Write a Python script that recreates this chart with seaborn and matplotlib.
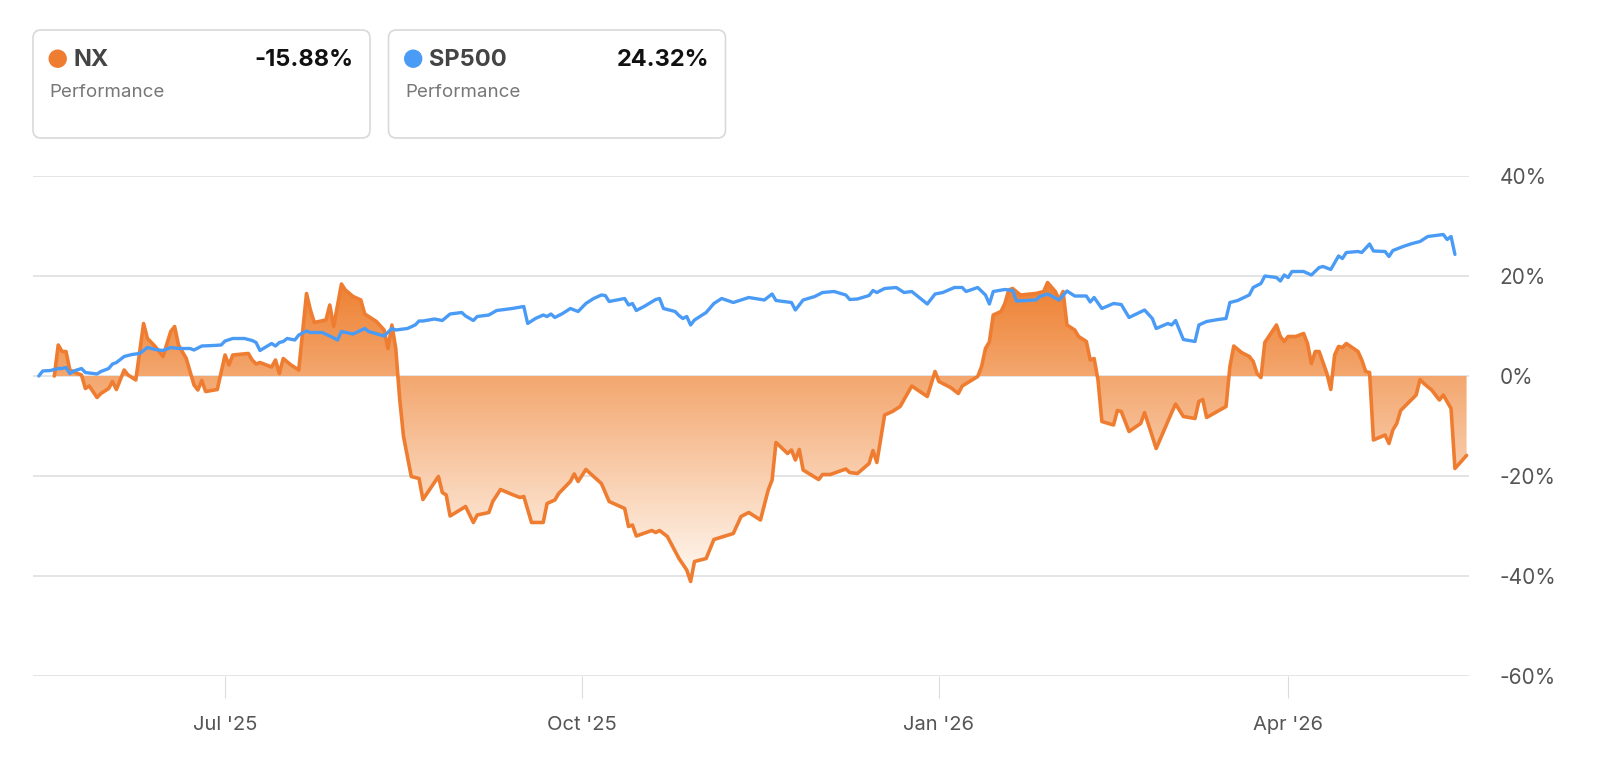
import numpy as np
import pandas as pd
import seaborn as sns
import matplotlib
matplotlib.use("Agg")
import matplotlib.pyplot as plt
import matplotlib.dates as mdates
from matplotlib.colors import LinearSegmentedColormap
from matplotlib.path import Path
from matplotlib.patches import FancyBboxPatch, Circle

# NX performance, % since start
nx_dates = [
    "2025-05-18", "2025-05-19", "2025-05-20", "2025-05-21", "2025-05-22", "2025-05-24", "2025-05-25",
    "2025-05-26", "2025-05-27", "2025-05-29", "2025-05-30", "2025-06-01", "2025-06-02", "2025-06-03",
    "2025-06-05", "2025-06-06", "2025-06-08", "2025-06-10", "2025-06-11", "2025-06-13", "2025-06-15",
    "2025-06-17", "2025-06-18", "2025-06-19", "2025-06-21", "2025-06-23", "2025-06-24", "2025-06-25",
    "2025-06-26", "2025-06-29", "2025-07-01", "2025-07-02", "2025-07-03", "2025-07-07", "2025-07-08",
    "2025-07-09", "2025-07-10", "2025-07-13", "2025-07-14", "2025-07-15", "2025-07-16", "2025-07-18",
    "2025-07-20", "2025-07-22", "2025-07-23", "2025-07-24", "2025-07-27", "2025-07-28", "2025-07-29",
    "2025-07-31", "2025-08-01", "2025-08-03", "2025-08-05", "2025-08-06", "2025-08-09", "2025-08-11",
    "2025-08-12", "2025-08-13", "2025-08-14", "2025-08-15", "2025-08-16", "2025-08-18", "2025-08-20",
    "2025-08-21", "2025-08-25", "2025-08-26", "2025-08-27", "2025-08-28", "2025-09-01", "2025-09-03",
    "2025-09-04", "2025-09-07", "2025-09-08", "2025-09-10", "2025-09-13", "2025-09-15", "2025-09-16",
    "2025-09-18", "2025-09-21", "2025-09-22", "2025-09-24", "2025-09-25", "2025-09-28", "2025-09-29",
    "2025-09-30", "2025-10-02", "2025-10-06", "2025-10-08", "2025-10-12", "2025-10-13", "2025-10-14",
    "2025-10-15", "2025-10-19", "2025-10-20", "2025-10-21", "2025-10-23", "2025-10-26", "2025-10-28",
    "2025-10-29", "2025-10-30", "2025-11-02", "2025-11-04", "2025-11-09", "2025-11-11", "2025-11-13",
    "2025-11-16", "2025-11-18", "2025-11-19", "2025-11-20", "2025-11-23", "2025-11-24", "2025-11-25",
    "2025-11-26", "2025-11-27", "2025-12-01", "2025-12-02", "2025-12-04", "2025-12-08", "2025-12-09",
    "2025-12-11", "2025-12-14", "2025-12-15", "2025-12-16", "2025-12-17", "2025-12-18", "2025-12-20",
    "2025-12-22", "2025-12-25", "2025-12-29", "2025-12-31", "2026-01-01", "2026-01-04", "2026-01-06",
    "2026-01-07", "2026-01-11", "2026-01-12", "2026-01-13", "2026-01-14", "2026-01-15", "2026-01-17",
    "2026-01-18", "2026-01-19", "2026-01-20", "2026-01-22", "2026-01-26", "2026-01-28", "2026-01-29",
    "2026-01-31", "2026-02-01", "2026-02-02", "2026-02-03", "2026-02-05", "2026-02-06", "2026-02-08",
    "2026-02-09", "2026-02-10", "2026-02-11", "2026-02-12", "2026-02-15", "2026-02-16", "2026-02-17",
    "2026-02-19", "2026-02-22", "2026-02-23", "2026-02-26", "2026-03-02", "2026-03-03", "2026-03-05",
    "2026-03-08", "2026-03-09", "2026-03-10", "2026-03-11", "2026-03-16", "2026-03-17", "2026-03-18",
    "2026-03-20", "2026-03-22", "2026-03-23", "2026-03-24", "2026-03-25", "2026-03-26", "2026-03-29",
    "2026-03-30", "2026-03-31", "2026-04-01", "2026-04-03", "2026-04-05", "2026-04-06", "2026-04-07",
    "2026-04-08", "2026-04-09", "2026-04-11", "2026-04-12", "2026-04-13", "2026-04-14", "2026-04-15",
    "2026-04-16", "2026-04-19", "2026-04-20", "2026-04-21", "2026-04-22", "2026-04-23", "2026-04-26",
    "2026-04-27", "2026-04-28", "2026-04-29", "2026-04-30", "2026-05-04", "2026-05-05", "2026-05-06",
    "2026-05-08", "2026-05-10", "2026-05-11", "2026-05-13", "2026-05-14", "2026-05-17",
]
nx_pct = [
    0.0, 6.2, 4.9, 4.9, 1.2, 0.5, 0.2,
    -2.5, -2.0, -4.3, -3.5, -2.5, -1.1, -2.7,
    1.2, 0.2, -0.8, 10.5, 7.5, 5.9, 3.9,
    8.9, 9.9, 6.2, 3.5, -1.8, -2.8, -0.9,
    -3.1, -2.7, 4.2, 2.2, 4.2, 4.5, 3.2,
    2.4, 2.7, 1.8, 3.2, 0.5, 3.5, 2.2,
    1.2, 16.5, 13.2, 10.7, 11.2, 14.2, 9.9,
    18.4, 17.2, 15.9, 15.2, 12.4, 10.9, 9.2,
    5.5, 10.2, 5.5, -4.5, -12.1, -20.1, -20.5,
    -24.7, -20.1, -23.3, -23.8, -28.0, -26.1, -29.3,
    -27.8, -27.3, -25.1, -22.7, -23.7, -24.3, -24.1,
    -29.3, -29.3, -25.5, -24.8, -23.5, -21.1, -19.6,
    -21.1, -18.7, -21.5, -25.1, -26.5, -30.1, -29.8,
    -32.0, -30.9, -31.3, -30.9, -32.1, -36.5, -38.8,
    -41.1, -37.1, -36.5, -32.7, -31.5, -28.1, -27.3,
    -28.8, -22.8, -20.8, -13.3, -15.5, -14.8, -16.8,
    -14.7, -18.8, -20.7, -19.7, -19.7, -18.6, -19.3,
    -19.5, -17.5, -14.9, -17.3, -12.5, -7.8, -7.1,
    -6.1, -2.0, -4.1, 0.9, -1.1, -2.3, -3.5,
    -2.0, -0.1, 1.9, 5.5, 6.8, 12.2, 12.9,
    14.5, 17.2, 17.5, 16.2, 16.5, 16.9, 18.7,
    16.9, 15.2, 16.9, 10.2, 9.2, 7.9, 6.9,
    3.2, 3.5, -0.8, -9.1, -9.8, -6.9, -7.1,
    -11.1, -9.5, -7.3, -14.5, -7.3, -5.6, -8.1,
    -8.5, -5.1, -4.7, -8.3, -6.1, 1.9, 6.0,
    4.7, 3.9, 2.9, 0.5, -0.3, 6.7, 10.2,
    7.9, 6.9, 7.9, 7.9, 8.5, 6.5, 2.5,
    4.9, 4.9, 0.5, -2.7, 4.2, 5.9, 5.7,
    6.5, 4.9, 3.2, 0.9, 0.7, -12.8, -11.8,
    -13.5, -10.8, -9.5, -6.9, -3.8, -0.7, -1.5,
    -2.8, -4.8, -3.8, -6.5, -18.5, -15.88,
]

# SP500 performance, % since start
spx_dates = [
    "2025-05-14", "2025-05-15", "2025-05-17", "2025-05-19", "2025-05-20", "2025-05-21", "2025-05-22",
    "2025-05-23", "2025-05-25", "2025-05-26", "2025-05-29", "2025-05-30", "2025-06-01", "2025-06-02",
    "2025-06-03", "2025-06-05", "2025-06-07", "2025-06-09", "2025-06-11", "2025-06-13", "2025-06-15",
    "2025-06-17", "2025-06-19", "2025-06-22", "2025-06-23", "2025-06-25", "2025-06-28", "2025-06-30",
    "2025-07-01", "2025-07-03", "2025-07-06", "2025-07-08", "2025-07-09", "2025-07-10", "2025-07-13",
    "2025-07-14", "2025-07-15", "2025-07-16", "2025-07-17", "2025-07-19", "2025-07-20", "2025-07-22",
    "2025-07-23", "2025-07-26", "2025-07-28", "2025-07-30", "2025-07-31", "2025-08-03", "2025-08-06",
    "2025-08-07", "2025-08-11", "2025-08-13", "2025-08-14", "2025-08-17", "2025-08-19", "2025-08-20",
    "2025-08-21", "2025-08-24", "2025-08-26", "2025-08-28", "2025-08-31", "2025-09-01", "2025-09-03",
    "2025-09-04", "2025-09-07", "2025-09-09", "2025-09-10", "2025-09-13", "2025-09-16", "2025-09-17",
    "2025-09-19", "2025-09-21", "2025-09-22", "2025-09-23", "2025-09-24", "2025-09-26", "2025-09-28",
    "2025-09-30", "2025-10-02", "2025-10-04", "2025-10-06", "2025-10-07", "2025-10-08", "2025-10-12",
    "2025-10-13", "2025-10-14", "2025-10-15", "2025-10-17", "2025-10-20", "2025-10-21", "2025-10-22",
    "2025-10-25", "2025-10-26", "2025-10-27", "2025-10-28", "2025-10-29", "2025-10-30", "2025-11-02",
    "2025-11-04", "2025-11-06", "2025-11-09", "2025-11-13", "2025-11-17", "2025-11-19", "2025-11-20",
    "2025-11-24", "2025-11-25", "2025-11-27", "2025-11-30", "2025-12-02", "2025-12-05", "2025-12-08",
    "2025-12-09", "2025-12-11", "2025-12-14", "2025-12-15", "2025-12-16", "2025-12-18", "2025-12-21",
    "2025-12-23", "2025-12-25", "2025-12-29", "2025-12-31", "2026-01-02", "2026-01-05", "2026-01-07",
    "2026-01-08", "2026-01-11", "2026-01-13", "2026-01-14", "2026-01-15", "2026-01-18", "2026-01-20",
    "2026-01-21", "2026-01-26", "2026-01-27", "2026-01-29", "2026-02-01", "2026-02-03", "2026-02-05",
    "2026-02-08", "2026-02-09", "2026-02-10", "2026-02-12", "2026-02-15", "2026-02-17", "2026-02-19",
    "2026-02-23", "2026-02-25", "2026-02-26", "2026-03-01", "2026-03-02", "2026-03-03", "2026-03-05",
    "2026-03-08", "2026-03-09", "2026-03-11", "2026-03-14", "2026-03-16", "2026-03-17", "2026-03-19",
    "2026-03-22", "2026-03-23", "2026-03-25", "2026-03-26", "2026-03-29", "2026-03-30", "2026-03-31",
    "2026-04-01", "2026-04-02", "2026-04-05", "2026-04-07", "2026-04-09", "2026-04-10", "2026-04-12",
    "2026-04-14", "2026-04-15", "2026-04-16", "2026-04-19", "2026-04-20", "2026-04-22", "2026-04-23",
    "2026-04-26", "2026-04-27", "2026-04-28", "2026-05-01", "2026-05-03", "2026-05-05", "2026-05-07",
    "2026-05-11", "2026-05-12", "2026-05-13", "2026-05-14",
]
spx_pct = [
    0.0, 1.0, 1.1, 1.5, 1.5, 1.7, 0.5,
    1.0, 1.5, 0.7, 0.4, 0.9, 1.5, 2.4,
    2.7, 3.9, 4.3, 4.5, 5.7, 5.3, 5.1,
    5.7, 5.5, 5.5, 5.2, 6.0, 6.1, 6.2,
    7.0, 7.5, 7.5, 7.1, 6.7, 5.1, 6.5,
    6.0, 6.7, 6.9, 7.5, 7.2, 8.2, 9.0,
    8.7, 8.7, 8.0, 7.2, 8.9, 8.4, 9.5,
    8.9, 8.0, 9.5, 9.2, 9.5, 10.2, 11.0,
    11.0, 11.4, 11.1, 12.4, 12.7, 12.0, 11.1,
    11.9, 12.2, 13.1, 13.2, 13.5, 13.9, 10.5,
    11.5, 12.2, 11.9, 12.4, 11.7, 12.5, 13.5,
    12.9, 14.5, 15.5, 16.2, 16.1, 14.9, 15.5,
    14.2, 14.5, 13.1, 13.9, 15.3, 15.5, 13.5,
    12.9, 12.1, 11.5, 11.9, 10.2, 11.2, 12.7,
    14.5, 15.5, 14.7, 15.7, 15.2, 16.4, 15.1,
    14.7, 13.2, 15.2, 15.9, 16.7, 16.9, 16.2,
    15.3, 15.4, 16.1, 17.1, 16.7, 17.5, 17.7,
    16.7, 16.9, 14.4, 16.4, 16.7, 17.7, 17.7,
    16.9, 17.7, 16.2, 14.4, 16.9, 17.3, 17.1,
    15.0, 15.2, 15.9, 16.4, 15.2, 17.0, 16.0,
    16.0, 14.8, 15.7, 13.5, 14.5, 14.3, 11.7,
    13.2, 11.5, 9.5, 10.5, 10.2, 11.1, 7.3,
    6.9, 10.2, 10.9, 11.3, 11.5, 14.7, 15.1,
    16.2, 17.7, 18.5, 20.0, 19.7, 19.0, 20.2,
    19.7, 20.9, 20.9, 20.2, 21.7, 21.9, 21.3,
    24.0, 23.5, 24.7, 24.9, 24.7, 26.4, 25.0,
    24.9, 23.9, 25.1, 26.0, 26.5, 26.9, 27.9,
    28.3, 27.3, 27.9, 24.32,
]

ytick_vals = [40, 20, 0, -20, -40, -60]
xtick_dates = ["2025-07-01", "2025-10-01", "2026-01-01", "2026-04-01"]
xtick_labels = ["Jul '25", "Oct '25", "Jan '26", "Apr '26"]
x_range = ["2025-05-12 12:00", "2026-05-17 15:00"]

card_names = ["NX", "SP500"]
card_values = ["-15.88%", "24.32%"]
card_sub = "Performance"

ORANGE = "#EF7D31"
BLUE = "#4A9BF5"
FILL_TOP = "#EE8132"
FILL_BOTTOM = "#FFF9F3"
GRID = "#DCDCDC"
W, H = 1616, 772

sns.set_theme(style="white")
plt.rcParams["font.family"] = ["Inter", "DejaVu Sans"]

nx = pd.DataFrame({"date": pd.to_datetime(nx_dates), "pct": nx_pct})
spx = pd.DataFrame({"date": pd.to_datetime(spx_dates), "pct": spx_pct})

fig = plt.figure(figsize=(W / 100, H / 100), dpi=100)
ax = fig.add_axes([33 / W, 1 - 676 / H, (1469 - 33) / W, 500 / H])

# gradient area between NX line and zero
poly = ax.fill_between(nx["date"], nx["pct"], 0, facecolor="none", edgecolor="none")
clip = Path.make_compound_path(*poly.get_paths())
xa, xb = mdates.date2num(pd.to_datetime(x_range))
grad = np.linspace(0, 1, 256).reshape(-1, 1)
cmap = LinearSegmentedColormap.from_list("nxfill", [FILL_TOP, FILL_BOTTOM])
img = ax.imshow(grad, extent=[xa, xb, nx["pct"].min(), nx["pct"].max()],
                origin="upper", aspect="auto", cmap=cmap, zorder=2, interpolation="bilinear")
img.set_clip_path(clip, ax.transData)

sns.lineplot(data=nx, x="date", y="pct", color=ORANGE, lw=2.6, estimator=None, ax=ax, zorder=4)
sns.lineplot(data=spx, x="date", y="pct", color=BLUE, lw=2.4, estimator=None, ax=ax, zorder=5)

ax.set_xlim(xa, xb)
ax.set_ylim(-60, 40)
ax.set_xlabel("")
ax.set_ylabel("")
for s in ax.spines.values():
    s.set_visible(False)

ax.set_axisbelow(True)
ax.set_yticks(ytick_vals)
ax.set_yticklabels([f"{v}%" for v in ytick_vals])
ax.yaxis.tick_right()
ax.yaxis.grid(True, color=GRID, lw=1.1)
ax.xaxis.grid(False)
ax.tick_params(axis="y", length=0, pad=22, labelsize=15, labelcolor="#555555")

ax.set_xticks(mdates.date2num(pd.to_datetime(xtick_dates)))
ax.set_xticklabels(xtick_labels)
ax.tick_params(axis="x", bottom=True, direction="out", length=16, width=0.8, color=GRID,
               pad=13, labelsize=14.5, labelcolor="#555555")

# header cards
tr = fig.dpi_scale_trans
lefts = [33, 388.5]
for i, left in enumerate(lefts):
    color = ORANGE if i == 0 else BLUE
    box = FancyBboxPatch((left / 100, (H - 138) / 100), 337 / 100, 108 / 100,
                         boxstyle="round,pad=0,rounding_size=0.08", transform=tr,
                         facecolor="white", edgecolor="#D9D9D9", lw=1.2)
    fig.patches.append(box)
    fig.patches.append(Circle(((left + 24.7) / 100, (H - 58.7) / 100), 0.085,
                              transform=tr, color=color))
    fig.text((left + 40.5) / 100, (H - 60.5) / 100, card_names[i], transform=tr,
             fontsize=17, fontweight="bold", color="#444444", va="center", ha="left")
    fig.text((left + 320.5) / 100, (H - 60.5) / 100, card_values[i], transform=tr,
             fontsize=17, fontweight="bold", color="#111111", va="center", ha="right")
    fig.text((left + 16.5) / 100, (H - 92.5) / 100, card_sub, transform=tr,
             fontsize=13.5, color="#777777", va="center", ha="left")

fig.savefig("out.png", dpi=100)
